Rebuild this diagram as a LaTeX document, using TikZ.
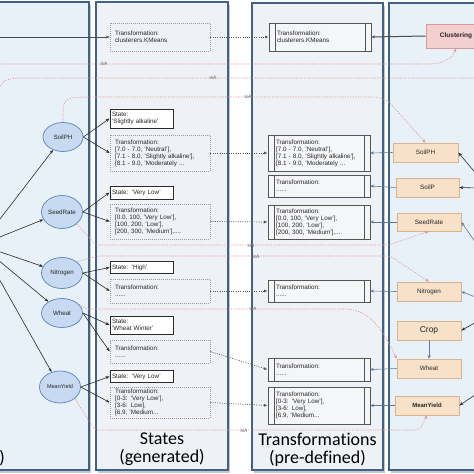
\documentclass[tikz,border=0pt]{standalone}
\usepackage{fontspec}
\setmainfont{Liberation Sans}
\newfontfamily\titlefont[Ligatures=CommonOff]{Carlito}
\usetikzlibrary{arrows.meta,shapes.geometric}
\definecolor{panelfill}{HTML}{EEF2F7}
\definecolor{panelleft}{HTML}{E8F0F8}
\definecolor{panelline}{HTML}{3F6386}
\definecolor{shadowc}{HTML}{C4C8CC}
\definecolor{ellfill}{HTML}{C7DAF1}
\definecolor{elldraw}{HTML}{5A84B8}
\definecolor{tanfill}{HTML}{F7E1C8}
\definecolor{tandraw}{HTML}{D6B48E}
\definecolor{pinkfill}{HTML}{F3CFCF}
\definecolor{pinkdraw}{HTML}{D39B9B}
\definecolor{isac}{HTML}{E39696}
\definecolor{slate}{HTML}{5E7892}
\definecolor{darkline}{HTML}{2B2B2B}
\definecolor{txt}{HTML}{262626}
\definecolor{dotc}{HTML}{9C9C9C}
\definecolor{pboxfill}{HTML}{F5F6F8}
\begin{document}
\begin{tikzpicture}[x=1pt,y=-1pt,
  panel/.style={draw=panelline, line width=1.3pt},
  ell/.style={ellipse, draw=elldraw, fill=ellfill, line width=0.7pt, inner sep=0pt, text=txt, font=\fontsize{6.2}{7}\selectfont},
  sbox/.style={draw=darkline, fill=white, line width=0.9pt, minimum width=63, text width=59, inner xsep=2, inner ysep=1, align=left, text=txt, font=\fontsize{6.3}{7}\selectfont},
  tbox/.style={draw=dotc, dash pattern=on 1pt off 1pt, line width=0.6pt, minimum width=100, text width=90, inner xsep=5, inner ysep=1, align=left, text=txt, font=\fontsize{6.3}{7}\selectfont},
  pbox/.style={draw=darkline!80, fill=pboxfill, line width=0.8pt, minimum width=102, text width=86, inner xsep=8, inner ysep=1, align=left, text=txt, font=\fontsize{6.3}{7}\selectfont,
    path picture={\draw[draw=darkline!80, line width=0.8pt]
      ([xshift=6pt]path picture bounding box.north west) -- ([xshift=6pt]path picture bounding box.south west)
      ([xshift=-6pt]path picture bounding box.north east) -- ([xshift=-6pt]path picture bounding box.south east);}},
  cbox/.style={draw=tandraw, fill=tanfill, line width=0.6pt, minimum width=64, minimum height=19, inner sep=0, text=txt, font=\fontsize{6.3}{7}\selectfont},
  arr/.style={draw=darkline, line width=0.6pt, -{Stealth[length=4pt,width=3pt]}},
  dotarr/.style={draw=black!65, line width=0.7pt, dash pattern=on 1pt off 1.3pt, -{Latex[length=3.5pt,width=3pt]}},
  isa/.style={draw=isac, line width=0.6pt, dash pattern=on 1.3pt off 1.3pt},
  isaarr/.style={isa, -{Stealth[length=4pt,width=3.2pt]}},
  isalab/.style={font=\fontsize{5}{5}\selectfont, text=black!60, inner sep=0.5pt},
  link/.style={draw=slate, line width=0.6pt, -{Stealth[length=3.5pt,width=3pt]}},
  title/.style={font=\titlefont\fontsize{18}{18}\selectfont, text=black, align=center, inner sep=0}
]
\useasboundingbox (0,0) rectangle (474,474);
\begin{scope}
\clip (0,0) rectangle (474,474);
% shadows
\fill[shadowc] (-18,5) rectangle (91,473);
\fill[shadowc] (98,5) rectangle (230,473);
\fill[shadowc] (254,6) rectangle (385,473);
\fill[shadowc] (391,6) rectangle (490,473);
% panels
\filldraw[panel, fill=panelleft] (-20,2) rectangle (89,470);
\filldraw[panel, fill=panelfill] (96,2) rectangle (228,470);
\filldraw[panel, fill=panelfill] (252,3) rectangle (383,470);
\filldraw[panel, fill=panelleft] (389,3) rectangle (490,470);
% titles
\node[title, anchor=north] (tStates) at (162,433) {States\\(generated)};
\node[title, anchor=north] (tTrans) at (317.5,433) {Transformations\\(pre-defined)};
\node[title, anchor=base east] (tLeft) at (5,463) {)};
% free ends
\coordinate (hub) at (-20,245);
\coordinate (leftIn) at (-5,37);
\coordinate (isaA) at (-5,64);
\coordinate (isaB1) at (-4,112);
\coordinate (isaB2) at (480,78);
\coordinate (rSoilPH) at (478,176);
\coordinate (rSoilP) at (478,188);
\coordinate (rSeedRate) at (478,246);
\coordinate (rNitrogen) at (478,298);
\coordinate (rCrop) at (478,321);
\coordinate (rMeanYield) at (478,393);
% ellipses
\node[ell, minimum width=40, minimum height=29] (eSoilPH) at (63,137) {SoilPH};
\node[ell, minimum width=41, minimum height=33] (eSeedRate) at (62,212) {SeedRate};
\node[ell, minimum width=41, minimum height=31] (eNitrogen) at (62,273) {Nitrogen};
\node[ell, minimum width=41, minimum height=29] (eWheat) at (62,313) {Wheat};
\node[ell, minimum width=41, minimum height=32, font=\fontsize{5.5}{6}\selectfont] (eMeanYield) at (60,387) {MeanYield};
% states panel
\node[tbox, minimum height=28] (t0) at (160,37) {Transformation:\\clusterers.KMeans};
\node[sbox, minimum height=19] (sSoilPH) at (141.5,118.5) {State:\\'Slightly alkaline'};
\node[tbox, minimum height=36] (tSoilPH) at (160,153) {Transformation:\\{}[7.0 - 7.0, 'Neutral'],\\{}[7.1 - 8.0, 'Slightly alkaline'],\\{}[8.1 - 9.0, 'Moderately ...};
\node[sbox, minimum height=13] (sSeedRate) at (141.5,192.5) {State: 'Very Low'};
\node[tbox, minimum height=35] (tSeedRate) at (160,221.5) {Transformation:\\{}[0.0, 100, 'Very Low'],\\{}[100, 200, 'Low'],\\{}[200, 300, 'Medium'],....};
\node[sbox, minimum height=12] (sNitrogen) at (141.5,267.5) {State: 'High'};
\node[tbox, minimum height=24] (tNitrogen) at (160,291) {Transformation:\\......};
\node[sbox, minimum height=18] (sWheat) at (141.5,325) {State:\\'Wheat Winter'};
\node[tbox, minimum height=23] (tWheat) at (160,351.5) {Transformation:\\......};
\node[sbox, minimum height=12] (sMeanYield) at (141.5,376.5) {State: 'Very Low'};
\node[tbox, minimum height=31] (tMeanYield) at (160,402.5) {Transformation:\\{}[0-3: 'Very Low'],\\{}[3-6: Low],\\{}[6.9, 'Medium...};
% transformations panel
\node[pbox, minimum height=28] (p0) at (320,37) {Transformation:\\clusterers.KMeans};
\node[pbox, minimum height=36] (pSoilPH) at (319,153) {Transformation:\\{}[7.0 - 7.0, 'Neutral'],\\{}[7.1 - 8.0, 'Slightly alkaline'],\\{}[8.1 - 9.0, 'Moderately ...};
\node[pbox, minimum height=22] (pSoilP) at (319,186) {Transformation:\\......};
\node[pbox, minimum height=34] (pSeedRate) at (319,222) {Transformation:\\{}[0.0, 100, 'Very Low'],\\{}[100, 200, 'Low'],\\{}[200, 300, 'Medium'],....};
\node[pbox, minimum height=22] (pNitrogen) at (319,291) {Transformation:\\......};
\node[pbox, minimum height=23] (pWheat) at (319,369.5) {Transformation:\\......};
\node[pbox, minimum height=37] (pMeanYield) at (319,405.5) {Transformation:\\{}[0-3: 'Very Low'],\\{}[3-6: Low],\\{}[6.9, 'Medium...};
% right panel
\node[cbox, minimum width=60, minimum height=24, fill=pinkfill, draw=pinkdraw, font=\bfseries\fontsize{6.5}{7}\selectfont] (cClust) at (456,36) {Clustering};
\node[cbox, minimum width=65] (cSoilPH) at (425.5,152.5) {SoilPH};
\node[cbox, minimum width=63] (cSoilP) at (427.5,187.5) {SoilP};
\node[cbox, minimum height=18] (cSeedRate) at (429,222) {SeedRate};
\node[cbox] (cNitrogen) at (429,291.5) {Nitrogen};
\node[cbox, font=\fontsize{8.5}{9}\selectfont] (cCrop) at (429,330.5) {Crop};
\node[cbox] (cWheat) at (429,368.5) {Wheat};
\node[cbox, font=\bfseries\fontsize{6}{7}\selectfont] (cMeanYield) at (427,405.5) {MeanYield};
% isA lines
\draw[isaarr] (isaA) -- (428,64) .. controls (446,64) and (453,57) .. (cClust.south);
\draw[isa] (isaB1) .. controls (0,80) .. (18,78) -- (isaB2);
\draw[isaarr] (eSoilPH.north) .. controls (63,98) .. (85,97) -- (372,97) .. controls (386,97) and (390,103) .. (398,112) -- (cSoilPH.north);
\draw[isaarr, rounded corners=3] (eSeedRate.south east) -- (96,245) -- (388,245) -- (cSeedRate.south);
\draw[isaarr, rounded corners=3] (eNitrogen.north east) -- (98,256) -- (390,256) -- (cNitrogen.north);
\draw[isaarr] (eWheat.north east) .. controls (85,309) .. (95,309) -- (345,309) .. controls (372,309) and (385,335) .. (cWheat.north west);
\draw[isaarr, rounded corners=3] (eMeanYield.south east) -- (95,430) -- (408,430) .. controls (420,430) .. (cMeanYield.south);
\node[isalab] (lA) at (104,64) {isA};
\node[isalab] (lB) at (213,78) {isA};
\node[isalab] (lSoilPH) at (248,97) {isA};
\node[isalab] (lSeedRate) at (251,246) {isA};
\node[isalab] (lNitrogen) at (256,257) {isA};
\node[isalab] (lWheat) at (253,309) {isA};
\node[isalab] (lMeanYield) at (244,431) {isA};
% arrows
\draw[arr, line width=0.9pt, draw=black!70] (leftIn) -- (t0.west);
\foreach \e in {SoilPH,SeedRate,Nitrogen,Wheat,MeanYield}{
  \draw[arr] (hub) -- (e\e);
  \draw[arr] (e\e.east) -- (s\e.west);
  \draw[arr] (e\e.east) -- (t\e.west);
  \draw[dotarr] (t\e.east) -- (p\e.west);
}
\draw[dotarr] (t0.east) -- (p0.west);
\draw[link, draw=black!70, line width=1pt] (cClust.west) -- (p0.east);
\foreach \e in {SoilPH,SoilP,SeedRate,Nitrogen,Wheat,MeanYield}{
  \draw[link] (c\e.west) -- (p\e.east);
}
\draw[link] (cCrop.south) -- (cWheat.north);
\draw[arr] (rSoilPH) -- (cSoilPH.east);
\draw[arr] (rSoilP) -- (cSoilP.east);
\draw[arr, draw=slate] (rSeedRate) -- (cSeedRate.east);
\draw[arr, draw=slate] (rNitrogen) -- (cNitrogen.east);
\draw[arr] (rCrop) -- (cCrop.east);
\draw[arr] (rMeanYield) -- (cMeanYield.east);
\end{scope}
\end{tikzpicture}
\end{document}
